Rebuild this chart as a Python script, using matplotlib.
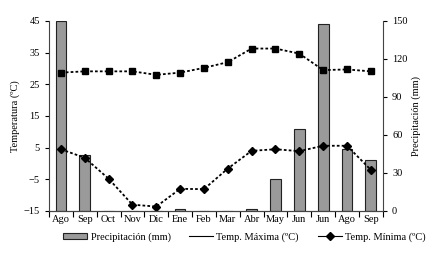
import matplotlib
matplotlib.use("Agg")
import matplotlib.pyplot as plt
from matplotlib.lines import Line2D
from matplotlib.patches import Patch

months = ["Ago", "Sep", "Oct", "Nov", "Dic", "Ene", "Feb", "Mar", "Abr", "May", "Jun", "Jun", "Ago", "Sep"]
precip = [150, 44, 0, 0, 0, 1.3, 0, 0, 1.5, 25, 65, 148, 49, 40]
tmax = [28.7, 29.1, 29.1, 29.1, 28.0, 28.7, 30.2, 32.0, 36.3, 36.3, 34.7, 29.5, 29.7, 29.1]
tmin = [4.5, 1.8, -4.8, -13.0, -13.6, -8.0, -8.1, -1.6, 4.0, 4.5, 3.9, 5.6, 5.6, -2.0]

plt.rcParams['font.family'] = ['Liberation Serif', 'DejaVu Serif']
fs = 7.5

fig = plt.figure(figsize=(4.31, 2.57), dpi=100)
ax1 = fig.add_axes([49/431, 1-211/257, (383-49)/431, 190/257])
ax2 = ax1.twinx()
ax1.set_zorder(ax2.get_zorder() + 1)
ax1.patch.set_visible(False)

x = list(range(len(months)))
ax2.bar(x, precip, width=0.45, color="#9a9a9a", edgecolor="#222222", linewidth=0.8)
ax2.set_ylim(0, 150)
ax2.set_yticks([0, 30, 60, 90, 120, 150])
ax2.set_ylabel("Precipitación (mm)", fontsize=fs, labelpad=3)

ax1.plot(x, tmax, linestyle=(0, (1.5, 1.2)), color="black", linewidth=1.3,
         marker="s", markersize=4.5)
ax1.plot(x, tmin, linestyle=(0, (1.5, 1.2)), color="black", linewidth=1.3,
         marker="D", markersize=4.5)
ax1.set_ylim(-15, 45)
ax1.set_yticks([-15, -5, 5, 15, 25, 35, 45])
ax1.set_ylabel("Temperatura (ºC)", fontsize=fs, labelpad=3)
ax1.set_xlim(-0.43, 13.51)

ax1.set_xticks([i + 0.5 for i in range(-1, 14)], minor=False)
ax1.set_xticklabels([])
ax1.set_xticks(x, minor=True)
ax1.set_xticklabels(months, minor=True, fontsize=fs)
ax1.tick_params(axis="x", which="minor", length=0, pad=3)
ax1.tick_params(axis="x", which="major", length=4, direction="out")
ax1.tick_params(axis="y", labelsize=fs, length=3)
ax2.tick_params(axis="y", labelsize=fs, length=3)

for a in (ax1, ax2):
    a.spines["top"].set_visible(False)
    for s in a.spines.values():
        s.set_color("#444444")
ax2.spines["left"].set_visible(False)
ax1.spines["right"].set_visible(False)

handles = [
    Patch(facecolor="#9a9a9a", edgecolor="#222222", linewidth=0.8),
    Line2D([0], [0], color="black", linewidth=0.8),
    Line2D([0], [0], color="black", linewidth=0.8, marker="D", markersize=4.5),
]
labels = ["Precipitación (mm)", "Temp. Máxima (ºC)", "Temp. Mínima (ºC)"]
fig.legend(handles, labels, loc="center", bbox_to_anchor=(0.567, 0.078), ncol=3,
           frameon=False, fontsize=fs, handlelength=2.3, handleheight=0.5,
           columnspacing=1.8, handletextpad=0.3, borderaxespad=0)

fig.savefig("out.png", dpi=100)
